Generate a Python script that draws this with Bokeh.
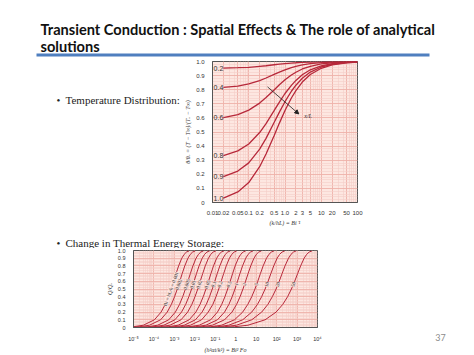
from bokeh.plotting import figure
from bokeh.models import (Range1d, FixedTicker, Label, Arrow, NormalHead, BoxAnnotation,
                          CustomJSTickFormatter, Spacer, AllLabels)
from bokeh.layouts import column, row
from bokeh.embed import file_html
from bokeh.resources import INLINE
from bokeh.core.properties import value

# ---------------- slide texts ----------------
title_line_1 = "Transient Conduction : Spatial Effects & The role of analytical"
title_line_2 = "solutions"
bullet_1 = "Temperature Distribution:"
bullet_2 = "Change in Thermal Energy Storage:"
page_number = "37"

# ---------------- chart 1 : theta/theta_o vs Bi^-1 ----------------
bi_inverse = [0.02, 0.05, 0.1, 0.2, 0.3, 0.5, 0.7, 1, 1.5, 2, 3, 5, 10, 20, 50, 100]
position_labels = ["0.2", "0.4", "0.6", "0.8", "0.9", "1.0"]
theta_x_0_2 = [0.953, 0.956, 0.959, 0.966, 0.970, 0.977, 0.981, 0.985, 0.989, 0.991, 0.994, 0.996, 0.998, 0.999, 1.0, 1.0]
theta_x_0_4 = [0.816, 0.826, 0.841, 0.865, 0.883, 0.909, 0.925, 0.941, 0.957, 0.966, 0.976, 0.985, 0.992, 0.996, 0.998, 0.999]
theta_x_0_6 = [0.602, 0.623, 0.655, 0.705, 0.744, 0.798, 0.835, 0.870, 0.904, 0.924, 0.947, 0.966, 0.983, 0.991, 0.996, 0.998]
theta_x_0_8 = [0.333, 0.366, 0.415, 0.496, 0.560, 0.651, 0.712, 0.773, 0.831, 0.866, 0.906, 0.941, 0.969, 0.984, 0.994, 0.997]
theta_x_0_9 = [0.184, 0.223, 0.281, 0.379, 0.455, 0.567, 0.641, 0.715, 0.789, 0.832, 0.881, 0.925, 0.961, 0.980, 0.992, 0.996]
theta_x_1_0 = [0.031, 0.075, 0.141, 0.254, 0.344, 0.474, 0.563, 0.652, 0.741, 0.794, 0.854, 0.908, 0.952, 0.976, 0.990, 0.995]
chart1_x_ticks = [0.01, 0.02, 0.05, 0.1, 0.2, 0.5, 1, 2, 3, 5, 10, 20, 50, 100]
chart1_x_tick_labels = ["0.01", "0.02", "0.05", "0.1", "0.2", "0.5", "1.0", "2", "3", "5", "10", "20", "50", "100"]
y_ticks = [0, 0.1, 0.2, 0.3, 0.4, 0.5, 0.6, 0.7, 0.8, 0.9, 1.0]
y_tick_labels = ["0", "0.1", "0.2", "0.3", "0.4", "0.5", "0.6", "0.7", "0.8", "0.9", "1.0"]

# ---------------- chart 2 : Q/Qo vs Bi^2 Fo ----------------
q_levels = [0.003, 0.01, 0.03, 0.1, 0.2, 0.3, 0.4, 0.5, 0.6, 0.7, 0.8, 0.9, 0.95, 0.98, 0.995]
# log10(Bi^2 Fo) at which each curve reaches the levels above
log_x_bi_0_001 = [-5.522, -4.998, -4.516, -3.977, -3.651, -3.448, -3.292, -3.159, -3.038, -2.919, -2.793, -2.638, -2.523, -2.408, -2.276]
log_x_bi_0_002 = [-5.221, -4.697, -4.215, -3.676, -3.350, -3.147, -2.991, -2.858, -2.737, -2.618, -2.492, -2.337, -2.222, -2.107, -1.975]
log_x_bi_0_005 = [-4.823, -4.299, -3.817, -3.278, -2.952, -2.749, -2.593, -2.460, -2.339, -2.220, -2.094, -1.939, -1.824, -1.709, -1.577]
log_x_bi_0_01 = [-4.522, -3.998, -3.516, -2.977, -2.651, -2.448, -2.292, -2.159, -2.038, -1.919, -1.793, -1.638, -1.523, -1.408, -1.276]
log_x_bi_0_02 = [-4.221, -3.697, -3.215, -2.676, -2.350, -2.146, -1.990, -1.857, -1.736, -1.616, -1.490, -1.335, -1.220, -1.105, -0.973]
log_x_bi_0_05 = [-3.823, -3.299, -2.817, -2.277, -1.950, -1.746, -1.589, -1.455, -1.333, -1.213, -1.087, -0.931, -0.816, -0.701, -0.569]
log_x_bi_0_1 = [-3.522, -2.998, -2.515, -1.974, -1.645, -1.440, -1.282, -1.147, -1.025, -0.904, -0.778, -0.623, -0.508, -0.393, -0.261]
log_x_bi_0_2 = [-3.221, -2.697, -2.214, -1.670, -1.345, -1.119, -0.963, -0.830, -0.709, -0.590, -0.464, -0.308, -0.194, -0.078, 0.054]
log_x_bi_0_5 = [-2.821, -2.298, -1.783, -1.227, -0.894, -0.684, -0.527, -0.394, -0.272, -0.153, -0.027, 0.129, 0.244, 0.360, 0.492]
log_x_bi_1 = [-2.520, -1.967, -1.457, -0.894, -0.548, -0.334, -0.173, -0.037, 0.086, 0.206, 0.334, 0.490, 0.605, 0.722, 0.854]
log_x_bi_2 = [-2.215, -1.648, -1.141, -0.548, -0.182, 0.043, 0.213, 0.355, 0.482, 0.605, 0.734, 0.893, 1.009, 1.126, 1.259]
log_x_bi_5 = [-1.783, -1.227, -0.694, -0.060, 0.340, 0.590, 0.784, 0.941, 1.078, 1.207, 1.342, 1.506, 1.624, 1.743, 1.877]
log_x_bi_10 = [-1.457, -0.894, -0.336, 0.340, 0.783, 1.064, 1.267, 1.437, 1.583, 1.719, 1.859, 2.026, 2.146, 2.267, 2.403]
log_x_bi_20 = [-1.141, -0.548, 0.041, 0.783, 1.270, 1.573, 1.791, 1.974, 2.127, 2.268, 2.411, 2.582, 2.704, 2.826, 2.962]
log_x_bi_50 = [-0.694, -0.060, 0.600, 1.436, 1.974, 2.301, 2.538, 2.724, 2.883, 3.028, 3.175, 3.347, 3.471, 3.594, 3.731]
bi_labels = ["Bi = hL/k = 0.001", "0.002", "0.005", "0.01", "0.02", "0.05", "0.1", "0.2",
             "0.5", "1", "2", "5", "10", "20", "50"]
chart2_x_ticks = [1e-5, 1e-4, 1e-3, 1e-2, 1e-1, 1, 10, 1e2, 1e3, 1e4]
chart2_x_tick_labels = ["10⁻⁵", "10⁻⁴", "10⁻³", "10⁻²", "10⁻¹", "1", "10", "10²", "10³", "10⁴"]

# ---------------- styles ----------------
BG = "#fde7e1"
GRID_MAJOR = "#eeafa6"
GRID_MINOR = "#f5cec7"
CURVE = "#b7283a"
FRAME = "#555555"
TXT = "#333333"


def label_formatter(vals, labs, log):
    code = """
    let best = 0, d = Infinity;
    for (let i = 0; i < vals.length; i++) {
      const e = log ? Math.abs(Math.log(vals[i]) - Math.log(tick)) : Math.abs(vals[i] - tick);
      if (e < d) { d = e; best = i; }
    }
    return labs[best];
    """
    return CustomJSTickFormatter(args=dict(vals=vals, labs=labs, log=log), code=code)


def blank(w, h, x0, x1, y_top, y_bottom, top=0, bottom=0):
    # ranges are in page pixel coordinates of the frame area
    f = figure(width=w, height=h, x_range=Range1d(x0, x1), y_range=Range1d(y_bottom, y_top),
               x_axis_location=None, y_axis_location=None, output_backend="svg",
               toolbar_location=None, title=None,
               min_border_left=0, min_border_right=0, min_border_top=top, min_border_bottom=bottom)
    f.grid.visible = False
    f.outline_line_color = None
    f.background_fill_color = "white"
    f.border_fill_color = "white"
    return f


def style_chart(p, font_px):
    p.background_fill_color = BG
    p.border_fill_color = "white"
    p.outline_line_color = FRAME
    p.outline_line_width = 1
    p.axis.axis_line_color = FRAME
    p.axis.major_tick_line_color = None
    p.axis.minor_tick_line_color = None
    p.axis.major_label_text_font = "Liberation Sans"
    p.axis.major_label_text_font_size = font_px
    p.axis.major_label_text_color = TXT
    p.axis.major_label_standoff = 2
    p.axis.axis_label_text_font = "Liberation Serif"
    p.axis.axis_label_text_font_size = "6px"
    p.axis.axis_label_text_color = TXT
    p.axis.axis_label_standoff = 2
    p.axis.major_label_policy = AllLabels()
    p.grid.grid_line_color = GRID_MAJOR
    p.grid.grid_line_width = 0.8
    p.grid.minor_grid_line_color = GRID_MINOR
    p.grid.minor_grid_line_width = 0.6


y_minor = [i / 50 for i in range(51)]

# ---------------- header (page y 0..57) ----------------
header = blank(474, 57, 0, 474, 0, 57)
header.add_layout(Label(x=40, y=29, text=title_line_1, text_font="Lato", text_font_style="bold",
                        text_font_size="14.6px", text_color="#111111", text_baseline="alphabetic"))
header.add_layout(Label(x=40, y=46, text=title_line_2, text_font="Lato", text_font_style="bold",
                        text_font_size="14.6px", text_color="#111111", text_baseline="alphabetic"))
header.add_layout(BoxAnnotation(left=36, right=429, top=53, bottom=56, fill_color="#4f7fbf",
                                fill_alpha=1, line_color=None))

# ---------------- bullet 1 (page y 57..228, frame 61..204) ----------------
b1 = blank(180, 171, 0, 180, 61, 204, top=4, bottom=24)
b1.add_layout(Label(x=56, y=100, text="•", text_font="Liberation Serif", text_font_size="11px",
                    text_color="#222222", text_baseline="alphabetic"))
b1.add_layout(Label(x=65, y=100, text=bullet_1, text_font="Liberation Serif", text_font_size="11px",
                    text_color="#222222", text_baseline="alphabetic"))

# ---------------- chart 1 ----------------
p1 = figure(width=294, height=171, x_axis_type="log", x_range=Range1d(0.01, 100), y_range=Range1d(0, 1),
            output_backend="svg", toolbar_location=None, title=None,
            min_border_left=32, min_border_right=117, min_border_top=4, min_border_bottom=24)
style_chart(p1, "6px")
minor1 = [m * d for d in (0.01, 0.1, 1, 10) for m in range(1, 10)] + [100]
p1.xaxis.ticker = FixedTicker(ticks=chart1_x_ticks, minor_ticks=minor1)
p1.xaxis.formatter = label_formatter(chart1_x_ticks, chart1_x_tick_labels, True)
p1.yaxis.ticker = FixedTicker(ticks=y_ticks, minor_ticks=y_minor)
p1.yaxis.formatter = label_formatter(y_ticks, y_tick_labels, False)
p1.xaxis.axis_label = "(k/hL) = Bi⁻¹"
p1.yaxis.axis_label = "θ/θₒ = (T − T∞)/(Tₒ − T∞)"

theta_series = [theta_x_0_2, theta_x_0_4, theta_x_0_6, theta_x_0_8, theta_x_0_9, theta_x_1_0]
for ys in theta_series:
    p1.line(bi_inverse, ys, line_color=CURVE, line_width=1.3)
p1.text(x=[0.0107] * len(position_labels), y=[s[0] for s in theta_series], text=position_labels,
        text_font=value("Liberation Sans"), text_font_size="7px", text_color=TXT,
        text_baseline="middle", text_align="left")
p1.add_layout(Arrow(end=NormalHead(size=4, fill_color="#222222", line_color="#222222"),
                    x_start=0.33, y_start=0.82, x_end=2.4, y_end=0.628,
                    line_color="#222222", line_width=0.8))
p1.add_layout(Label(x=3.4, y=0.615, text="x/L", text_font="Liberation Serif", text_font_style="italic",
                    text_font_size="6px", text_color=TXT, text_baseline="middle"))

# ---------------- bullet 2 (page y 228..248) ----------------
b2 = blank(474, 20, 0, 474, 228, 248)
b2.add_layout(Label(x=56, y=242, text="•", text_font="Liberation Serif", text_font_size="11px",
                    text_color="#222222", text_baseline="alphabetic"))
b2.add_layout(Label(x=65, y=242, text=bullet_2, text_font="Liberation Serif", text_font_size="11px",
                    text_color="#222222", text_baseline="alphabetic"))

# ---------------- chart 2 (page y 248..355, frame 250..332) ----------------
p2 = figure(width=240, height=107, x_axis_type="log", x_range=Range1d(1e-5, 1e4), y_range=Range1d(0, 1),
            output_backend="svg", toolbar_location=None, title=None,
            min_border_left=33, min_border_right=23, min_border_top=2, min_border_bottom=23)
style_chart(p2, "5.5px")
minor2 = [m * 10.0 ** e for e in range(-5, 4) for m in range(1, 10)] + [1e4]
p2.xaxis.ticker = FixedTicker(ticks=chart2_x_ticks, minor_ticks=minor2)
p2.xaxis.formatter = label_formatter(chart2_x_ticks, chart2_x_tick_labels, True)
p2.yaxis.ticker = FixedTicker(ticks=y_ticks, minor_ticks=y_minor)
p2.yaxis.formatter = label_formatter(y_ticks, y_tick_labels, False)
p2.xaxis.axis_label = "(h²αt/k²) = Bi² Fo"
p2.yaxis.axis_label = "Q/Qₒ"

q_series = [log_x_bi_0_001, log_x_bi_0_002, log_x_bi_0_005, log_x_bi_0_01, log_x_bi_0_02, log_x_bi_0_05,
            log_x_bi_0_1, log_x_bi_0_2, log_x_bi_0_5, log_x_bi_1, log_x_bi_2, log_x_bi_5,
            log_x_bi_10, log_x_bi_20, log_x_bi_50]
i5 = q_levels.index(0.5)
for lx in q_series:
    p2.line([10.0 ** v for v in lx], q_levels, line_color=CURVE, line_width=1.0)
for k, lx in enumerate(q_series):
    frac = 0.0 if k == 0 else 0.6
    lxl = lx[i5] + frac * (lx[i5 + 1] - lx[i5])
    ql = q_levels[i5] + frac * (q_levels[i5 + 1] - q_levels[i5])
    p2.add_layout(Label(x=10.0 ** lxl, y=ql, text=bi_labels[k], angle=70, angle_units="deg",
                        text_font="Liberation Serif", text_font_size="5px", text_color=TXT,
                        text_align="center", text_baseline="middle",
                        background_fill_color=BG, background_fill_alpha=0.9))

# page number in a small strip (page y 326..355) nested in a column
pn = blank(134, 29, 340, 474, 326, 355)
pn.add_layout(Label(x=440, y=337, text=page_number, text_font="Lato", text_font_size="9px",
                    text_color="#8c8c8c", text_baseline="middle", text_align="center"))

layout = column(header,
                row(b1, p1),
                b2,
                row(Spacer(width=100, height=107), p2,
                    column(Spacer(width=134, height=78), pn)))

open("out.html", "w").write(file_html(layout, INLINE))
